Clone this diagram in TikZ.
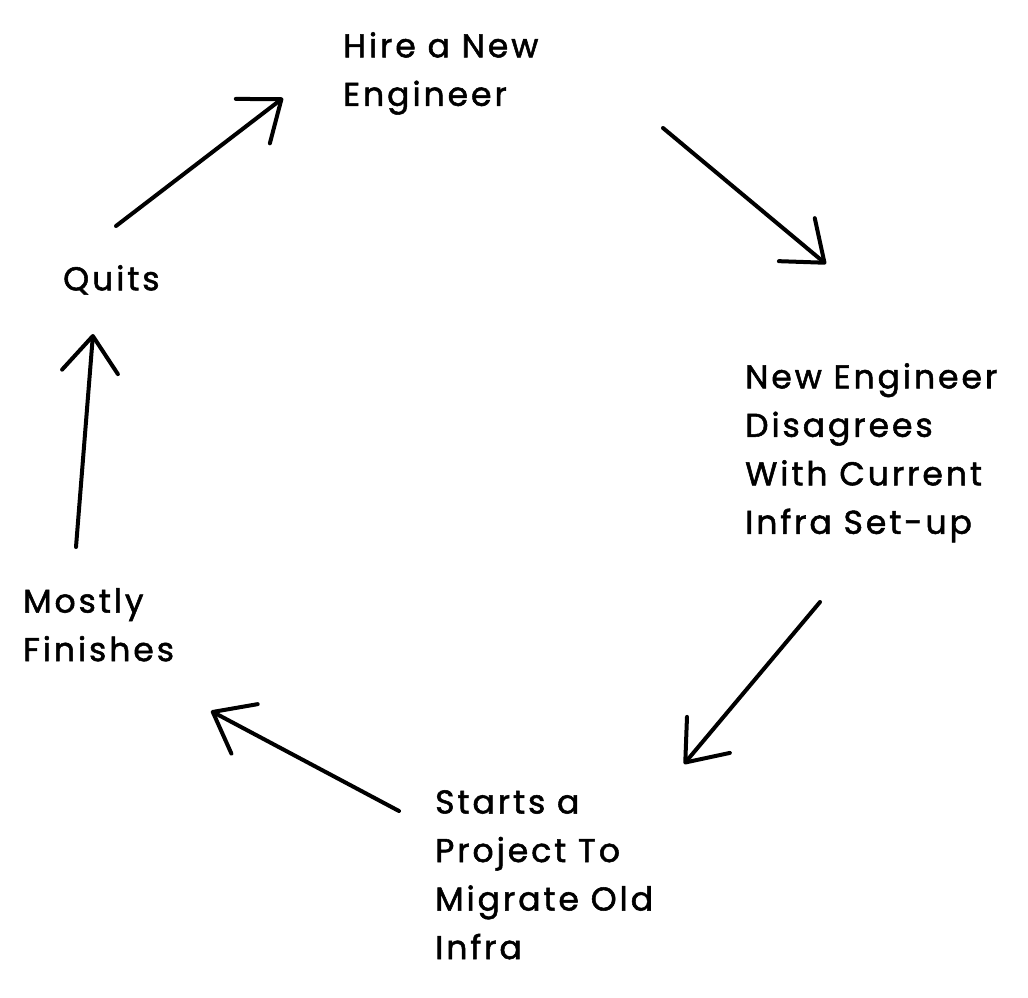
\documentclass[tikz,border=0pt]{standalone}
\usepackage{fontspec}
\setmainfont{Poppins}[LetterSpace=9,FakeBold=1.6]
\usetikzlibrary{arrows.meta}
\begin{document}
\begin{tikzpicture}[x=1pt,y=-1pt,
  lbl/.style={anchor=north west,inner sep=0pt,align=left,
    font=\fontsize{33}{48.5}\selectfont},
  flow/.style={line width=4pt,line cap=round,
    -{Straight Barb[length=36pt,width=56pt,round]}}]
\useasboundingbox[fill=white] (0,0) rectangle (1028,997);
% labels
\node[lbl] (hire) at (343,32) {Hire a New\\Engineer};
\node[lbl] (disagree) at (745,363) {New Engineer\\Disagrees\\With Current\\Infra Set-up};
\node[lbl] (starts) at (435,790) {Starts a\\Project To\\Migrate Old\\Infra};
\node[lbl] (mostly) at (23,588) {Mostly\\Finishes};
\node[lbl] (quits) at (63,265) {Quits};
% arrow end points
\coordinate (a1s) at (116,226); \coordinate (a1e) at (283,98);
\coordinate (a2s) at (663,128); \coordinate (a2e) at (826,264);
\coordinate (a3s) at (820,602); \coordinate (a3e) at (684,764);
\coordinate (a4s) at (399,811); \coordinate (a4e) at (211,711);
\coordinate (a5s) at (76,547);  \coordinate (a5e) at (93,334);
\draw[flow] (a1s) -- (a1e);
\draw[flow] (a2s) -- (a2e);
\draw[flow] (a3s) -- (a3e);
\draw[flow] (a4s) -- (a4e);
\draw[flow] (a5s) -- (a5e);
\end{tikzpicture}
\end{document}
